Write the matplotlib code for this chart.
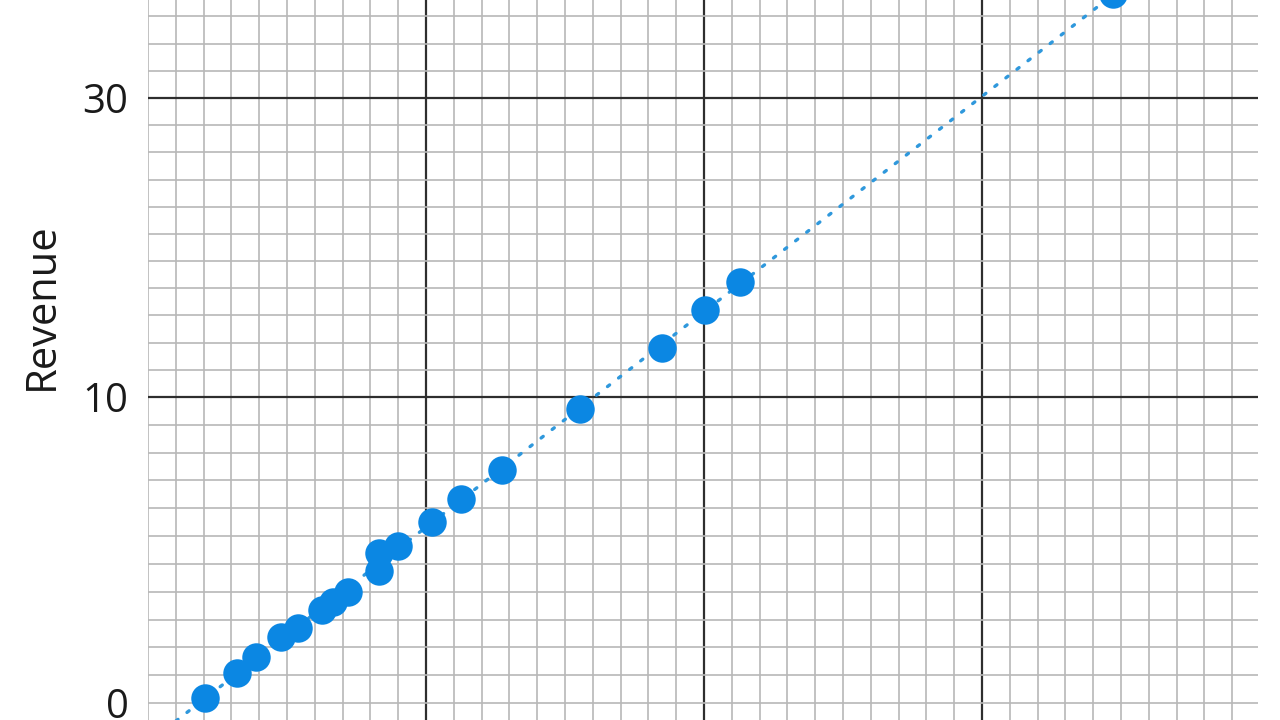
import numpy as np
import matplotlib
matplotlib.use("Agg")
import matplotlib.pyplot as plt
from matplotlib.ticker import MultipleLocator, FixedLocator, NullFormatter

plt.rcParams['font.family'] = ['Open Sans', 'DejaVu Sans']

# data
spend = [2.05, 3.19, 3.88, 4.78, 5.41, 6.25, 6.67, 7.21, 8.31, 8.31,
         9.00, 10.23, 11.26, 12.74, 15.55, 18.50, 20.04, 21.29, 34.71]
revenue = [0.15, 0.99, 1.51, 2.15, 2.46, 3.04, 3.31, 3.64, 4.32, 4.91,
           5.14, 5.92, 6.67, 7.60, 9.60, 13.30, 15.82, 17.67, 36.96]

y_ticks = [0, 10, 30]
y_labels = ['0', '10', '30']
x_major = [10, 20, 30]

LOW = 1.0234  # room given to 0-10, relative to 10-30


# the value axis is stretched: 0-10 takes about the same room as 10-30
def fwd(y):
    y = np.asarray(y, dtype=float)
    return np.where(y < 10, y / 10.0 * LOW, LOW + (y - 10) / 20.0)


def inv(t):
    t = np.asarray(t, dtype=float)
    return np.where(t < LOW, t / LOW * 10.0, 10 + (t - LOW) * 20.0)


fig = plt.figure(figsize=(12.8, 7.2), dpi=100)
ax = fig.add_axes([148 / 1280, 0, 1110 / 1280, 1])
ax.set_yscale('function', functions=(fwd, inv))

# trend line fitted in the axis' own space
b, a = np.polyfit(spend, fwd(revenue), 1)
xs = np.linspace(0, 40, 300)
ax.plot(xs, inv(a + b * xs), color='#2f98dc', lw=2.4,
        linestyle=(0, (0.8, 3.4)), dash_capstyle='round', zorder=3)

ax.plot(spend, revenue, 'o', color='#0b87e3', ms=20.5, mew=0, zorder=4)

ax.set_xlim(0, 39.93)
ax.set_ylim(float(inv(-0.0569)), float(inv(LOW + 1 + 98 / 299)))

ax.xaxis.set_major_locator(FixedLocator(x_major))
ax.xaxis.set_minor_locator(MultipleLocator(1))
ax.xaxis.set_major_formatter(NullFormatter())

ax.yaxis.set_major_locator(FixedLocator(y_ticks))
ax.set_yticklabels(y_labels)
minor_t = np.concatenate([np.arange(-1, 12) / 11.0 * LOW,
                          LOW + np.arange(1, 16) / 11.0])
ax.yaxis.set_minor_locator(FixedLocator(inv(minor_t)))
ax.yaxis.set_minor_formatter(NullFormatter())

ax.grid(which='major', color='#2e2e2e', lw=1.6, zorder=1)
ax.grid(which='minor', color='#b8b8b8', lw=1.2, zorder=0)
ax.set_axisbelow(True)
# the zero line is drawn light, like the minor lines
zero_line = ax.get_ygridlines()[0]
zero_line.set_color('#b8b8b8')
zero_line.set_linewidth(1.2)

ax.tick_params(which='both', length=0)
ax.tick_params(axis='y', labelsize=29, pad=14, labelcolor='#1a1a1a')
for s in ax.spines.values():
    s.set_visible(False)

fig.text(42 / 1280, 1 - 306 / 720, 'Revenue', rotation=90, fontsize=30,
         color='#1a1a1a', ha='center', va='center')

fig.savefig('out.png', dpi=100)
